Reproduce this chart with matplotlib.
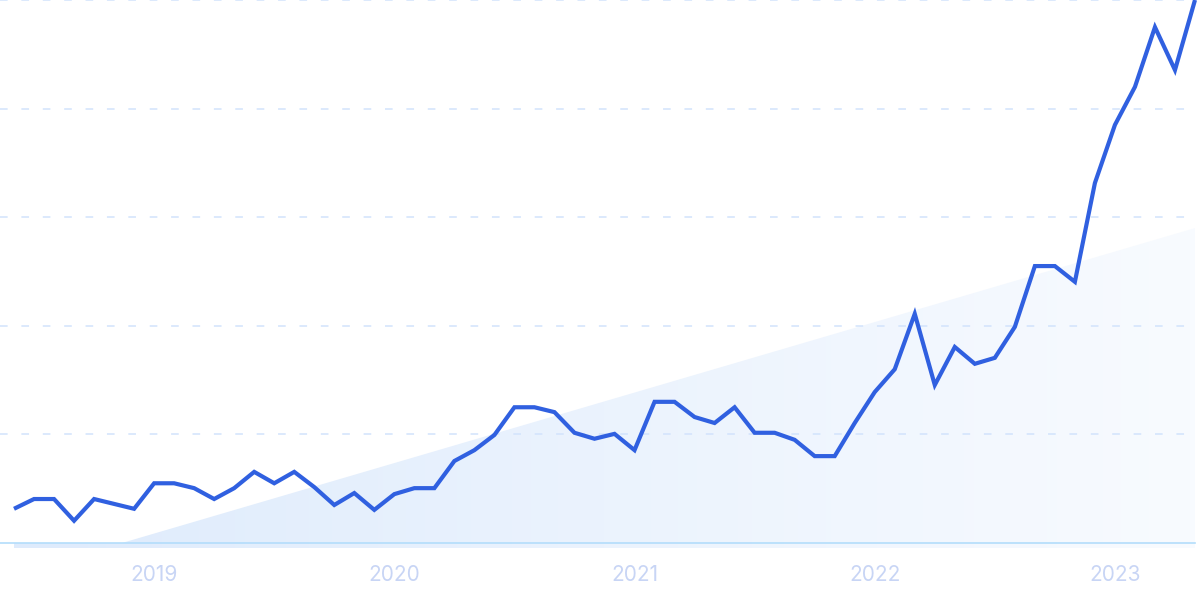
import matplotlib.pyplot as plt
from matplotlib.patches import Polygon
from matplotlib.colors import LinearSegmentedColormap
import numpy as np

# monthly values, Jun 2018 .. May 2023
values = [6.3, 8.1, 8.1, 4.1, 8.1, 7.2, 6.3, 11.0, 11.0, 10.1,
          8.1, 10.1, 13.1, 11.0, 13.1, 10.3, 7.0, 9.2, 6.1, 9.0,
          10.1, 10.1, 15.1, 17.1, 19.9, 25.0, 25.0, 24.1, 20.3, 19.2,
          20.1, 17.1, 26.0, 26.0, 23.2, 22.1, 25.0, 20.3, 20.3, 19.0,
          16.0, 16.0, 22.1, 27.8, 32.0, 42.2, 29.1, 36.1, 33.0, 34.1,
          39.8, 51.0, 51.0, 48.1, 66.3, 77.0, 84.0, 95.0, 87.1, 100.0]
tick_idx = [7, 19, 31, 43, 55]
tick_labels = ['2019', '2020', '2021', '2022', '2023']
trend_start = 4.54  # where the shaded trend area leaves the bottom
trend_end = 58.0    # height of the trend area at the last month

plt.rcParams['font.family'] = ['Inter', 'DejaVu Sans']

fig = plt.figure(figsize=(12, 6), dpi=100)
ax = fig.add_axes([0, 52 / 600, 1, 548 / 600])

x = np.arange(len(values))
n = len(values) - 1
low = -0.92
xmin, xmax = -0.7, n + 0.25
ax.set_xlim(xmin, xmax)
ax.set_ylim(low, 100)

# shaded trend area with a soft gradient
slope = (trend_end - low) / (n - trend_start)
cross = trend_start - low / slope
poly = Polygon([(0, low), (0, 0), (cross, 0), (n, trend_end), (n, low)],
               closed=True, facecolor='none', edgecolor='none')
ax.add_patch(poly)
cmap = LinearSegmentedColormap.from_list('fade', ['#deebfc', '#f8fbff'])
grad = np.linspace(0, 1, 256).reshape(1, -1)
img = ax.imshow(grad, cmap=cmap, extent=[0, n, low, trend_end],
                aspect='auto', origin='lower', zorder=1)
img.set_clip_path(poly)

# grid
for g in [20, 40, 60, 80, 100]:
    ax.axhline(g, xmin=0, xmax=(n - 0.1 - xmin) / (xmax - xmin),
               color='#d2e3fc', lw=1.1, ls=(0, (5, 9)), zorder=2)
ax.axhline(0, xmin=0, xmax=(n - xmin) / (xmax - xmin),
           color='#b3ddfb', lw=1.2, zorder=2)

ax.plot(x, values, color='#3060e0', lw=3, solid_joinstyle='miter',
        solid_capstyle='butt', zorder=3)

ax.set_xticks(tick_idx)
ax.set_xticklabels(tick_labels, color='#c8d5f5', fontsize=15)
ax.tick_params(axis='x', length=0, pad=12.5)
ax.set_yticks([])
for s in ax.spines.values():
    s.set_visible(False)
ax.patch.set_alpha(0)

fig.savefig('out.png', dpi=100)
